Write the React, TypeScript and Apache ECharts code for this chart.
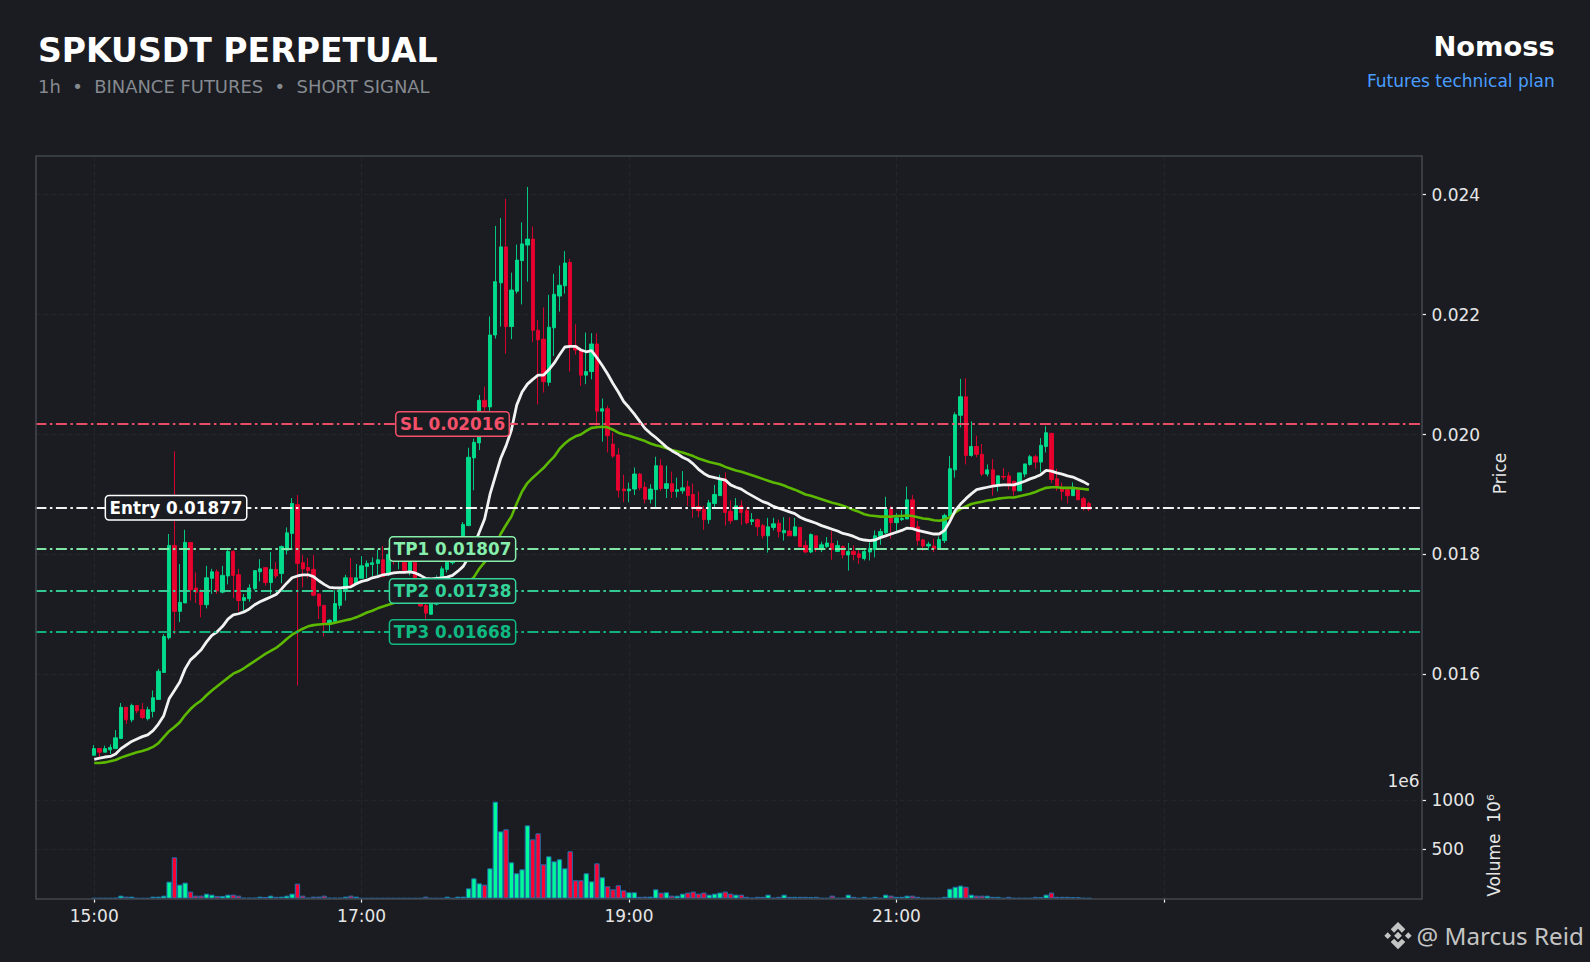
import React, { useEffect, useRef } from "react";
import * as echarts from "echarts";

const tickLabels = ["15:00", "17:00", "19:00", "21:00", ""];
const leadingSlots = 11;
const totalSlots = 260;

const opens = [
  .01465,.01476,.01470,.01474,.01476,.01493,.01545,.01524,.01548,.01541,
  .01526,.01538,.01558,.01603,.01661,.01815,.01705,.01719,.01820,.01744,
  .01737,.01716,.01760,.01771,.01737,.01764,.01805,.01766,.01723,.01726,
  .01743,.01771,.01778,.01753,.01775,.01768,.01807,.01835,.01883,.01786,
  .01778,.01775,.01734,.01715,.01683,.01688,.01715,.01741,.01761,.01750,
  .01760,.01780,.01783,.01785,.01791,.01766,.01800,.01790,.01787,.01770,
  .01787,.01755,.01715,.01700,.01717,.01759,.01775,.01786,.01800,.01818,
  .01848,.01961,.01986,.02057,.02046,.02166,.02253,.02313,.02180,.02239,
  .02290,.02316,.02326,.02174,.02159,.02087,.02178,.02231,.02248,.02287,
  .02148,.02140,.02099,.02105,.02151,.02039,.02043,.01984,.01966,.01909,
  .01906,.01909,.01934,.01912,.01892,.01908,.01948,.01910,.01918,.01905,
  .01906,.01913,.01900,.01880,.01875,.01858,.01885,.01898,.01926,.01872,
  .01858,.01881,.01873,.01855,.01858,.01848,.01831,.01845,.01852,.01836,
  .01839,.01831,.01845,.01815,.01804,.01831,.01808,.01813,.01818,.01805,
  .01813,.01799,.01805,.01801,.01793,.01804,.01808,.01830,.01836,.01876,
  .01853,.01858,.01859,.01891,.01846,.01824,.01814,.01814,.01809,.01823,
  .01864,.01941,.02032,.02063,.01965,.01980,.01967,.01934,.01941,.01915,
  .01930,.01931,.01922,.01906,.01934,.01950,.01963,.01954,.01980,.02002,
  .01926,.01912,.01908,.01898,.01908,.01893,.01885,
];
const highs = [
  .01482,.01477,.01481,.01483,.01507,.01552,.01545,.01551,.01548,.01552,
  .01546,.01573,.01609,.01667,.01834,.01972,.01784,.01841,.01820,.01770,
  .01742,.01781,.01776,.01775,.01781,.01811,.01807,.01776,.01734,.01750,
  .01774,.01792,.01778,.01804,.01787,.01815,.01845,.01894,.01899,.01799,
  .01794,.01799,.01734,.01715,.01692,.01740,.01741,.01766,.01794,.01784,
  .01797,.01790,.01795,.01808,.01814,.01812,.01806,.01803,.01802,.01804,
  .01800,.01760,.01720,.01730,.01765,.01780,.01795,.01812,.01820,.01854,
  .01978,.01993,.02066,.02080,.02197,.02348,.02361,.02393,.02270,.02317,
  .02354,.02413,.02347,.02191,.02212,.02233,.02268,.02282,.02306,.02293,
  .02184,.02140,.02170,.02169,.02169,.02060,.02048,.02003,.01977,.01933,
  .01920,.01945,.01936,.01921,.01917,.01963,.01959,.01948,.01938,.01928,
  .01939,.01923,.01918,.01905,.01881,.01891,.01916,.01933,.01937,.01890,
  .01894,.01890,.01878,.01869,.01860,.01851,.01861,.01861,.01858,.01862,
  .01862,.01861,.01845,.01823,.01835,.01831,.01821,.01829,.01839,.01823,
  .01815,.01819,.01815,.01809,.01810,.01820,.01840,.01843,.01896,.01880,
  .01869,.01874,.01913,.01899,.01856,.01826,.01821,.01826,.01830,.01868,
  .01964,.02037,.02093,.02094,.02022,.01998,.01984,.01950,.01959,.01931,
  .01944,.01937,.01922,.01936,.01951,.01966,.01966,.01994,.02014,.02002,
  .01943,.01920,.01912,.01920,.01912,.01896,.01888,
];
const lows = [
  .01464,.01462,.01470,.01467,.01476,.01492,.01517,.01520,.01535,.01525,
  .01523,.01528,.01558,.01603,.01658,.01667,.01687,.01719,.01723,.01719,
  .01695,.01710,.01734,.01734,.01735,.01750,.01727,.01705,.01706,.01721,
  .01740,.01755,.01748,.01733,.01760,.01752,.01800,.01809,.01581,.01745,
  .01760,.01730,.01692,.01663,.01672,.01688,.01709,.01723,.01747,.01750,
  .01760,.01760,.01763,.01765,.01762,.01764,.01783,.01775,.01770,.01765,
  .01757,.01713,.01690,.01699,.01715,.01757,.01770,.01783,.01797,.01815,
  .01847,.01907,.01974,.02038,.02038,.02160,.02180,.02135,.02159,.02235,
  .02217,.02255,.02154,.02050,.02070,.02081,.02131,.02205,.02235,.02105,
  .02133,.02081,.02084,.02092,.02013,.01988,.01970,.01961,.01895,.01887,
  .01887,.01899,.01907,.01885,.01885,.01877,.01906,.01894,.01894,.01895,
  .01901,.01881,.01861,.01862,.01841,.01851,.01879,.01898,.01848,.01851,
  .01858,.01849,.01850,.01849,.01831,.01826,.01803,.01840,.01828,.01823,
  .01831,.01831,.01812,.01802,.01802,.01804,.01804,.01811,.01791,.01804,
  .01793,.01773,.01790,.01784,.01790,.01790,.01795,.01816,.01834,.01826,
  .01837,.01856,.01859,.01842,.01815,.01806,.01807,.01804,.01809,.01819,
  .01864,.01928,.02012,.01950,.01963,.01962,.01931,.01930,.01898,.01905,
  .01924,.01908,.01898,.01906,.01929,.01948,.01943,.01937,.01970,.01919,
  .01906,.01890,.01885,.01898,.01891,.01873,.01872,
];
const closes = [
  .01476,.01470,.01476,.01478,.01494,.01545,.01524,.01548,.01539,.01528,
  .01541,.01561,.01605,.01663,.01815,.01705,.01720,.01820,.01741,.01737,
  .01716,.01761,.01771,.01739,.01765,.01805,.01765,.01723,.01728,.01744,
  .01773,.01776,.01753,.01775,.01764,.01813,.01836,.01885,.01785,.01776,
  .01773,.01732,.01714,.01684,.01690,.01718,.01741,.01761,.01750,.01761,
  .01781,.01785,.01786,.01791,.01763,.01800,.01790,.01795,.01773,.01787,
  .01759,.01714,.01702,.01717,.01758,.01776,.01787,.01800,.01812,.01850,
  .01962,.01987,.02057,.02046,.02166,.02255,.02313,.02180,.02241,.02291,
  .02318,.02326,.02174,.02158,.02088,.02179,.02234,.02249,.02286,.02148,
  .02141,.02099,.02105,.02151,.02039,.02043,.01998,.01964,.01907,.01906,
  .01909,.01934,.01911,.01892,.01909,.01948,.01910,.01918,.01905,.01908,
  .01911,.01898,.01879,.01873,.01858,.01886,.01900,.01925,.01870,.01856,
  .01881,.01870,.01853,.01858,.01846,.01831,.01846,.01851,.01838,.01840,
  .01831,.01846,.01813,.01804,.01833,.01810,.01816,.01819,.01808,.01815,
  .01799,.01805,.01800,.01795,.01805,.01810,.01831,.01838,.01875,.01853,
  .01861,.01860,.01891,.01845,.01823,.01814,.01817,.01809,.01825,.01865,
  .01943,.02033,.02063,.01965,.01980,.01967,.01934,.01941,.01915,.01931,
  .01929,.01917,.01906,.01936,.01951,.01963,.01954,.01982,.02003,.01925,
  .01912,.01905,.01898,.01912,.01891,.01877,.01875,
];
const volumes = [
  6,6,6,6,8,30,20,20,5,5,
  5,20,20,30,172,419,142,162,71,30,
  30,50,40,27,27,40,40,30,8,8,
  8,20,17,30,18,20,30,50,152,30,
  8,20,20,30,8,8,8,20,30,20,
  5,5,5,5,5,5,5,5,5,5,
  5,5,20,5,5,5,20,5,20,20,
  104,206,155,141,307,983,682,703,368,257,
  297,743,601,662,348,429,378,399,307,480,
  186,186,257,175,358,216,125,94,135,84,
  64,64,18,20,20,94,60,64,30,30,
  50,61,71,50,61,40,50,61,71,50,
  40,40,18,8,18,18,40,8,18,40,
  18,18,18,18,15,18,6,6,30,6,
  6,40,18,6,18,6,18,6,40,30,
  18,18,30,30,18,6,6,6,6,18,
  100,120,132,120,40,30,30,30,18,18,
  6,18,6,6,6,6,18,15,40,61,
  18,18,18,15,15,6,6,
];
const emaFast = [
  .01458,.01460,.01462,.01463,.01467,.01476,.01482,.01488,.01492,.01496,
  .01499,.01506,.01517,.01531,.01559,.01573,.01587,.01609,.01624,.01632,
  .01641,.01654,.01665,.01671,.01680,.01692,.01699,.01701,.01704,.01709,
  .01716,.01721,.01725,.01729,.01733,.01742,.01752,.01761,.01764,.01766,
  .01766,.01763,.01756,.01750,.01745,.01744,.01744,.01745,.01746,.01751,
  .01755,.01757,.01761,.01763,.01766,.01767,.01769,.01770,.01770,.01771,
  .01769,.01765,.01760,.01759,.01760,.01761,.01762,.01765,.01772,.01780,
  .01795,.01815,.01837,.01859,.01900,.01930,.01960,.01981,.02007,.02049,
  .02071,.02084,.02092,.02099,.02099,.02108,.02119,.02133,.02146,.02147,
  .02147,.02141,.02138,.02140,.02128,.02115,.02101,.02085,.02071,.02055,
  .02045,.02034,.02022,.02010,.02002,.01995,.01987,.01979,.01973,.01968,
  .01962,.01958,.01951,.01942,.01935,.01930,.01928,.01926,.01924,.01916,
  .01912,.01909,.01903,.01898,.01893,.01888,.01885,.01880,.01877,.01874,
  .01871,.01868,.01862,.01858,.01855,.01852,.01848,.01845,.01842,.01839,
  .01835,.01833,.01830,.01826,.01824,.01823,.01824,.01828,.01831,.01834,
  .01837,.01840,.01844,.01843,.01840,.01838,.01836,.01834,.01834,.01840,
  .01855,.01873,.01884,.01893,.01901,.01908,.01910,.01912,.01914,.01915,
  .01916,.01916,.01916,.01919,.01922,.01926,.01929,.01933,.01940,.01939,
  .01936,.01934,.01931,.01929,.01925,.01921,.01916,
];
const emaSlow = [
  .01452,.01452,.01453,.01455,.01457,.01461,.01464,.01467,.01470,.01472,
  .01475,.01479,.01485,.01495,.01505,.01512,.01520,.01532,.01542,.01550,
  .01556,.01565,.01573,.01580,.01587,.01594,.01601,.01605,.01610,.01616,
  .01622,.01628,.01634,.01639,.01644,.01651,.01659,.01666,.01671,.01676,
  .01680,.01682,.01683,.01684,.01684,.01686,.01688,.01690,.01692,.01695,
  .01699,.01703,.01706,.01710,.01713,.01716,.01719,.01722,.01724,.01726,
  .01728,.01730,.01731,.01732,.01733,.01735,.01737,.01739,.01743,.01748,
  .01754,.01762,.01776,.01787,.01796,.01815,.01834,.01849,.01863,.01885,
  .01905,.01919,.01928,.01936,.01944,.01954,.01963,.01976,.01985,.01992,
  .01997,.02000,.02006,.02011,.02012,.02013,.02012,.02008,.02003,.02000,
  .01998,.01995,.01992,.01989,.01985,.01982,.01980,.01977,.01974,.01972,
  .01970,.01967,.01964,.01960,.01957,.01954,.01952,.01950,.01946,.01943,
  .01940,.01938,.01935,.01932,.01929,.01926,.01923,.01920,.01918,.01915,
  .01911,.01908,.01904,.01900,.01898,.01895,.01892,.01889,.01886,.01884,
  .01881,.01878,.01874,.01871,.01867,.01865,.01864,.01863,.01863,.01863,
  .01864,.01864,.01865,.01864,.01862,.01860,.01859,.01857,.01856,.01858,
  .01862,.01870,.01876,.01880,.01884,.01886,.01888,.01890,.01891,.01893,
  .01894,.01895,.01895,.01897,.01899,.01901,.01904,.01908,.01911,.01912,
  .01912,.01911,.01911,.01911,.01910,.01909,.01908,
];

const levelLabels = ["SL 0.02016", "Entry 0.01877", "TP1 0.01807", "TP2 0.01738", "TP3 0.01668"];
const levelPrices = [0.020175, 0.018779, 0.01809, 0.01739, 0.016706];
const levelColors = ["#f4506a", "#ffffff", "#86efac", "#34d399", "#10b981"];
const levelAnchors = [67, 15, 67, 67, 67];

const priceTicks = [0.016, 0.018, 0.02, 0.022, 0.024];
const volumeTicks = [500, 1000];

const BG = "#1a1c21";
const FONT = "'DejaVu Sans', sans-serif";
const AXIS_TEXT = "#e6e6e6";
const GRID_LINE = "rgba(255,255,255,0.045)";
const UP = "#00dc8c";
const DOWN = "#e8002f";

const binanceMark =
  "M12 1.5L17.6 7.1L15 9.7L12 6.7L9 9.7L6.4 7.1Z" +
  "M12 22.5L6.4 16.9L9 14.3L12 17.3L15 14.3L17.6 16.9Z" +
  "M1.5 12L4.1 9.4L6.7 12L4.1 14.6Z" +
  "M22.5 12L19.9 9.4L17.3 12L19.9 14.6Z" +
  "M12 9L15 12L12 15L9 12Z";

const pad = (arr: any[]) => [...new Array(leadingSlots).fill("-"), ...arr];
const categories = Array.from({ length: totalSlots }, (_, k) => {
  const i = k - leadingSlots;
  return i >= 0 && i % 50 === 0 && i / 50 < tickLabels.length ? tickLabels[i / 50] : String(i);
});
const isTick = (k: number) => {
  const i = k - leadingSlots;
  return i >= 0 && i % 50 === 0;
};

echarts.graphic.registerShape("binanceMark", echarts.graphic.extendPath(binanceMark as any, {}) as any);

export default function App() {
  const ref = useRef<HTMLDivElement>(null);
  useEffect(() => {
    if (!ref.current) return;
    document.body.style.background = BG;
    const chart = echarts.init(ref.current, undefined, { renderer: "svg" });
    const candles = opens.map((o, i) => [o, closes[i], lows[i], highs[i]]);
    const xBase = {
      type: "category",
      data: categories,
      boundaryGap: false,
      axisLine: { show: false },
      splitLine: {
        show: true,
        interval: (k: number) => isTick(k),
        lineStyle: { color: GRID_LINE, type: [5, 3], width: 1 },
      },
    };
    const gridLine = { show: true, lineStyle: { color: GRID_LINE, type: [5, 3], width: 1 } };
    chart.setOption({
      animation: false,
      backgroundColor: BG,
      textStyle: { fontFamily: FONT },
      grid: [
        { left: 35.4, width: 1385.1, top: 156, height: 635 },
        { left: 35.4, width: 1385.1, top: 792.4, height: 106.2 },
      ],
      xAxis: [
        { ...xBase, gridIndex: 0, axisTick: { show: false }, axisLabel: { show: false } },
        {
          ...xBase,
          gridIndex: 1,
          axisTick: {
            show: true,
            interval: (k: number) => isTick(k),
            length: 4,
            lineStyle: { color: "#f0f0f0", width: 1.2 },
          },
          axisLabel: {
            show: true,
            interval: (k: number) => isTick(k),
            color: AXIS_TEXT,
            fontSize: 17,
            fontFamily: FONT,
            margin: 9,
            formatter: (v: string) => (v.includes(":") ? v : ""),
          },
        },
      ],
      yAxis: [
        {
          type: "value",
          gridIndex: 0,
          position: "right",
          offset: 1.5,
          min: 0.014053,
          max: 0.024646,
          name: "Price",
          nameLocation: "middle",
          nameRotate: 90,
          nameGap: 57,
          nameTextStyle: { color: AXIS_TEXT, fontSize: 17, fontFamily: FONT },
          axisLine: { show: false },
          axisTick: { show: true, customValues: priceTicks, length: 4, lineStyle: { color: "#f0f0f0", width: 1.2 } },
          axisLabel: {
            show: true,
            customValues: priceTicks,
            color: AXIS_TEXT,
            fontSize: 17,
            fontFamily: FONT,
            margin: 9.5,
            formatter: (v: number) => v.toFixed(3),
          },
          splitLine: gridLine,
        },
        {
          type: "value",
          gridIndex: 1,
          position: "right",
          offset: 1.5,
          min: 0,
          max: 1077,
          name: "Volume  10⁶",
          nameLocation: "middle",
          nameRotate: 90,
          nameGap: 57,
          nameTextStyle: { color: AXIS_TEXT, fontSize: 17, fontFamily: FONT },
          axisLine: { show: false },
          axisTick: { show: true, customValues: volumeTicks, length: 4, lineStyle: { color: "#f0f0f0", width: 1.2 } },
          axisLabel: {
            show: true,
            customValues: volumeTicks,
            color: AXIS_TEXT,
            fontSize: 17,
            fontFamily: FONT,
            margin: 9.5,
            formatter: (v: number) => String(v),
          },
          splitLine: gridLine,
        },
      ],
      series: [
        {
          type: "candlestick",
          name: "Candles",
          xAxisIndex: 0,
          yAxisIndex: 0,
          barWidth: 3.8,
          data: pad(candles).map((c) => (c === "-" ? ["-", "-", "-", "-"] : c)),
          itemStyle: { color: UP, color0: DOWN, borderColor: UP, borderColor0: DOWN, borderWidth: 0.9 },
          z: 2,
        },
        {
          type: "bar",
          name: "Volume",
          xAxisIndex: 1,
          yAxisIndex: 1,
          barWidth: 5.35,
          data: pad(
            volumes.map((v, i) => ({
              value: v,
              itemStyle: {
                color: closes[i] >= opens[i] ? "#00fa9a" : "#ff0033",
                borderColor: "#1f70ad",
                borderWidth: 1,
              },
            }))
          ),
          z: 2,
        },
        {
          type: "line",
          name: "EMA slow",
          xAxisIndex: 0,
          yAxisIndex: 0,
          data: pad(emaSlow),
          showSymbol: false,
          lineStyle: { color: "#5cb800", width: 2.6 },
          z: 4,
        },
        {
          type: "line",
          name: "EMA fast",
          xAxisIndex: 0,
          yAxisIndex: 0,
          data: pad(emaFast),
          showSymbol: false,
          lineStyle: { color: "#f2f2f2", width: 2.8 },
          z: 5,
        },
        {
          type: "line",
          name: "Levels",
          xAxisIndex: 0,
          yAxisIndex: 0,
          data: [],
          z: 6,
          markLine: {
            silent: true,
            symbol: "none",
            animation: false,
            precision: 6,
            z: 6,
            label: { show: false },
            data: levelPrices.map((v, i) => ({
              yAxis: v,
              lineStyle: { color: levelColors[i], width: 2, type: [11, 3.5, 2.5, 3.5], opacity: 0.95 },
            })),
          },
          markPoint: {
            silent: true,
            symbol: "circle",
            symbolSize: 0,
            animation: false,
            z: 30,
            data: levelPrices.map((v, i) => ({
              coord: [levelAnchors[i] + leadingSlots, v],
              label: {
                show: true,
                position: "inside",
                offset: i === 1 ? [1.6, 0] : [0, 0],
                formatter: levelLabels[i],
                color: levelColors[i],
                fontFamily: FONT,
                fontWeight: "bold",
                fontSize: 16.8,
                backgroundColor: BG,
                borderColor: levelColors[i],
                borderWidth: 1.5,
                borderRadius: 3,
                padding: [3, 3.5, 3, 3.5],
              },
            })),
          },
        },
      ],
      graphic: [
        {
          type: "rect",
          shape: { x: 36, y: 156, width: 1386, height: 743 },
          style: { fill: "none", stroke: "#41454d", lineWidth: 1.6 },
          z: 20,
          silent: true,
        },
        {
          type: "text",
          x: 38,
          y: 50,
          style: {
            text: "SPKUSDT PERPETUAL",
            fill: "#ffffff",
            font: `bold 33.1px ${FONT}`,
            textAlign: "left",
            textVerticalAlign: "middle",
          },
        },
        {
          type: "text",
          x: 38,
          y: 86,
          style: {
            text: "1h  •  BINANCE FUTURES  •  SHORT SIGNAL",
            fill: "#868a90",
            font: `17.95px ${FONT}`,
            textAlign: "left",
            textVerticalAlign: "middle",
          },
        },
        {
          type: "text",
          x: 1554.7,
          y: 46.5,
          style: {
            text: "Nomoss",
            fill: "#ffffff",
            font: `bold 27.3px ${FONT}`,
            textAlign: "right",
            textVerticalAlign: "middle",
          },
        },
        {
          type: "text",
          x: 1554.7,
          y: 81,
          style: {
            text: "Futures technical plan",
            fill: "#4a9eff",
            font: `17px ${FONT}`,
            textAlign: "right",
            textVerticalAlign: "middle",
          },
        },
        {
          type: "text",
          x: 1419.5,
          y: 781,
          style: {
            text: "1e6",
            fill: AXIS_TEXT,
            font: `17px ${FONT}`,
            textAlign: "right",
            textVerticalAlign: "middle",
          },
        },
        {
          type: "binanceMark",
          x: 1382.4,
          y: 920.1,
          scaleX: 1.3,
          scaleY: 1.3,
          style: { fill: "#c4c4c4" },
        },
        {
          type: "text",
          x: 1416.5,
          y: 935.5,
          style: {
            text: "@ Marcus Reid",
            fill: "#c4c4c4",
            font: `24.2px 'Noto Sans', sans-serif`,
            textAlign: "left",
            textVerticalAlign: "middle",
          },
        },
      ],
    } as any);
    return () => chart.dispose();
  }, []);
  return (
    <div
      ref={ref}
      style={{ position: "absolute", left: 0, top: 0, width: 1590, height: 962, background: BG }}
    />
  );
}
